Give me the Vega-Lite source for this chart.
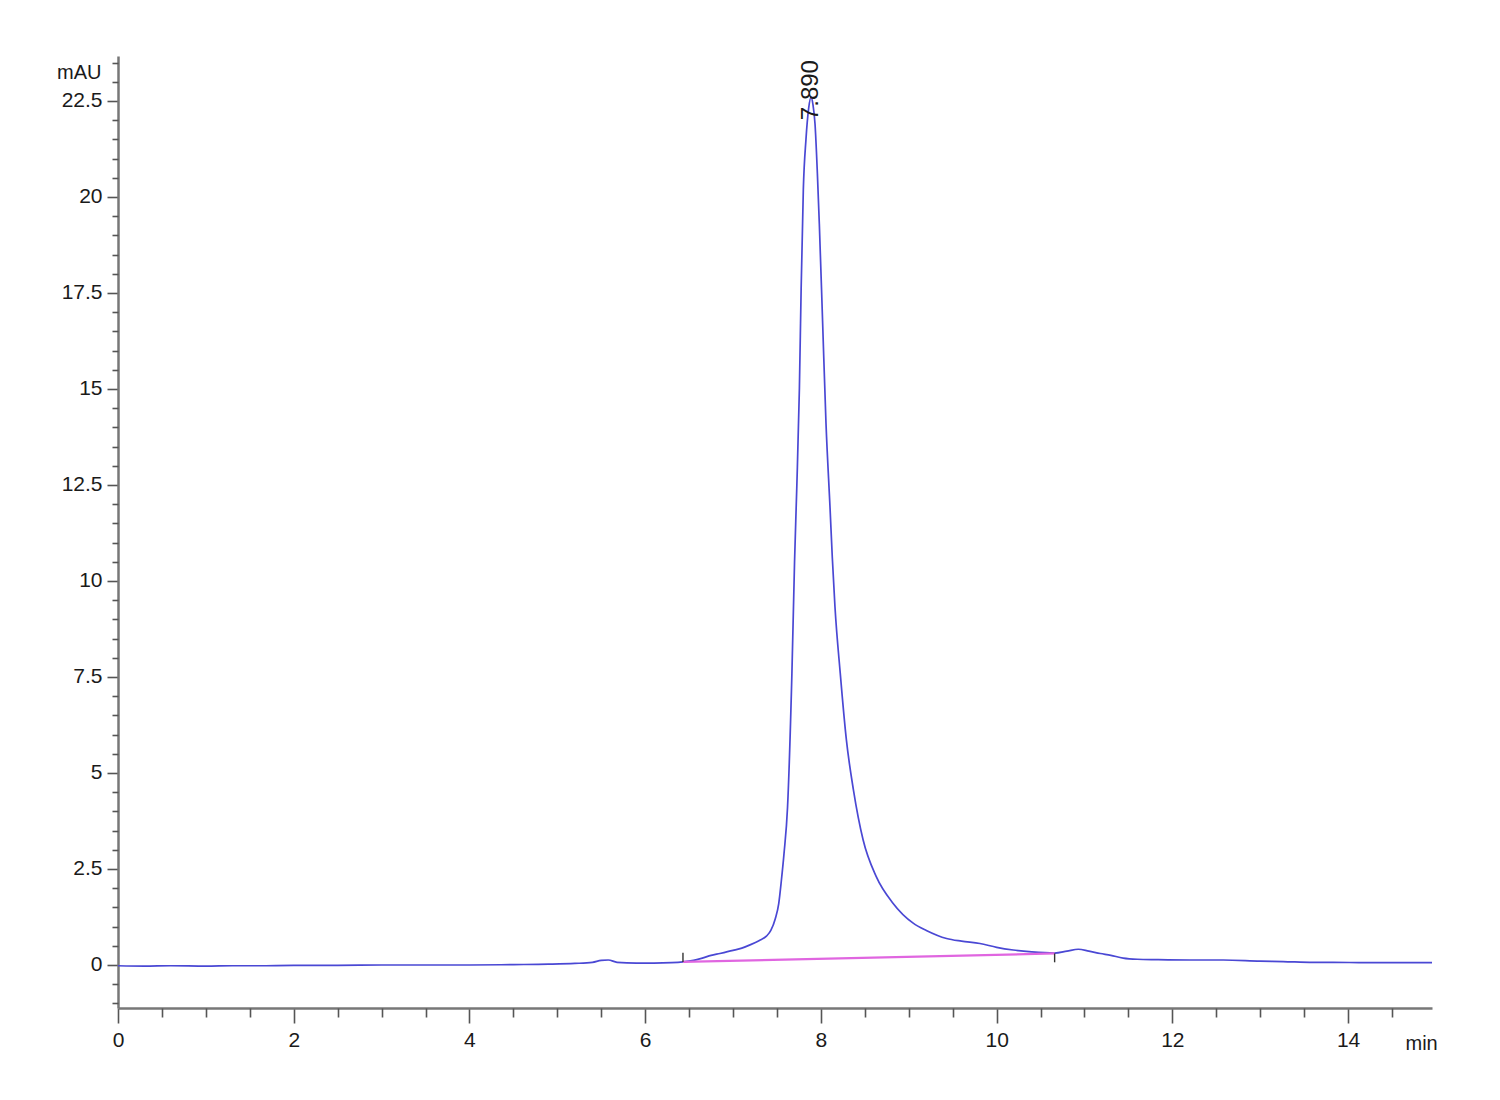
{
  "$schema": "https://vega.github.io/schema/vega-lite/v6.json",
  "autosize": {"type": "none"},
  "width": 1314,
  "height": 952,
  "padding": {"left": 118, "top": 56, "right": 68, "bottom": 92},
  "background": "white",
  "config": {
    "view": {"stroke": null},
    "font": "Liberation Sans",
    "axis": {
      "grid": false,
      "labelFont": "Liberation Sans",
      "labelFontSize": 21,
      "labelColor": "#1a1a1a",
      "titleFont": "Liberation Sans",
      "titleFontSize": 20,
      "titleFontWeight": "normal",
      "titleColor": "#1a1a1a",
      "tickColor": "#555555",
      "tickWidth": 1.6,
      "domainColor": "#777777",
      "domainWidth": 2.5
    }
  },
  "datasets": {
    "trace": [
      {"t": 0.0, "mAU": -0.02}, {"t": 0.3, "mAU": -0.03}, {"t": 0.6, "mAU": -0.02},
      {"t": 1.0, "mAU": -0.03}, {"t": 1.3, "mAU": -0.02}, {"t": 1.6, "mAU": -0.02},
      {"t": 2.0, "mAU": -0.01}, {"t": 2.5, "mAU": -0.01}, {"t": 3.0, "mAU": 0.0},
      {"t": 3.5, "mAU": 0.0}, {"t": 4.0, "mAU": 0.0}, {"t": 4.5, "mAU": 0.01},
      {"t": 4.9, "mAU": 0.02}, {"t": 5.2, "mAU": 0.04}, {"t": 5.4, "mAU": 0.07},
      {"t": 5.5, "mAU": 0.12}, {"t": 5.58, "mAU": 0.13}, {"t": 5.68, "mAU": 0.07},
      {"t": 5.9, "mAU": 0.05}, {"t": 6.1, "mAU": 0.05}, {"t": 6.3, "mAU": 0.06},
      {"t": 6.43, "mAU": 0.08}, {"t": 6.55, "mAU": 0.12}, {"t": 6.65, "mAU": 0.18},
      {"t": 6.75, "mAU": 0.25}, {"t": 6.85, "mAU": 0.3}, {"t": 7.0, "mAU": 0.38},
      {"t": 7.1, "mAU": 0.44}, {"t": 7.2, "mAU": 0.53}, {"t": 7.3, "mAU": 0.64},
      {"t": 7.38, "mAU": 0.75}, {"t": 7.43, "mAU": 0.9}, {"t": 7.48, "mAU": 1.2},
      {"t": 7.52, "mAU": 1.6}, {"t": 7.55, "mAU": 2.2}, {"t": 7.58, "mAU": 2.9},
      {"t": 7.62, "mAU": 4.1}, {"t": 7.67, "mAU": 7.6}, {"t": 7.7, "mAU": 10.5},
      {"t": 7.725, "mAU": 12.4}, {"t": 7.755, "mAU": 15.0}, {"t": 7.775, "mAU": 17.6},
      {"t": 7.8, "mAU": 20.2}, {"t": 7.83, "mAU": 21.5}, {"t": 7.86, "mAU": 22.3},
      {"t": 7.888, "mAU": 22.6}, {"t": 7.91, "mAU": 22.4}, {"t": 7.933, "mAU": 21.9},
      {"t": 7.96, "mAU": 20.6}, {"t": 7.982, "mAU": 19.3}, {"t": 8.02, "mAU": 16.7},
      {"t": 8.058, "mAU": 14.1}, {"t": 8.104, "mAU": 11.9}, {"t": 8.13, "mAU": 10.6},
      {"t": 8.16, "mAU": 9.33}, {"t": 8.22, "mAU": 7.6}, {"t": 8.29, "mAU": 5.86},
      {"t": 8.37, "mAU": 4.56}, {"t": 8.48, "mAU": 3.26}, {"t": 8.63, "mAU": 2.3},
      {"t": 8.82, "mAU": 1.61}, {"t": 9.05, "mAU": 1.09}, {"t": 9.2, "mAU": 0.9},
      {"t": 9.43, "mAU": 0.69}, {"t": 9.6, "mAU": 0.62}, {"t": 9.81, "mAU": 0.56},
      {"t": 10.0, "mAU": 0.46}, {"t": 10.19, "mAU": 0.39}, {"t": 10.4, "mAU": 0.34},
      {"t": 10.66, "mAU": 0.31}, {"t": 10.8, "mAU": 0.36}, {"t": 10.93, "mAU": 0.41},
      {"t": 11.05, "mAU": 0.36}, {"t": 11.18, "mAU": 0.3}, {"t": 11.3, "mAU": 0.25},
      {"t": 11.44, "mAU": 0.18}, {"t": 11.6, "mAU": 0.15}, {"t": 11.82, "mAU": 0.14},
      {"t": 12.2, "mAU": 0.13}, {"t": 12.58, "mAU": 0.13}, {"t": 13.0, "mAU": 0.1},
      {"t": 13.26, "mAU": 0.09}, {"t": 13.6, "mAU": 0.07}, {"t": 13.83, "mAU": 0.07},
      {"t": 14.2, "mAU": 0.06}, {"t": 14.5, "mAU": 0.06}, {"t": 14.955, "mAU": 0.06}
    ],
    "baseline": [
      {"t0": 6.43, "y0": 0.08, "t1": 10.66, "y1": 0.3}
    ],
    "marks": [
      {"t": 6.43, "y0": 0.08, "y1": 0.32},
      {"t": 10.66, "y0": 0.3, "y1": 0.07}
    ],
    "peak": [
      {"t": 7.89, "mAU": 22.0, "label": "7.890"}
    ]
  },
  "resolve": {"axis": {"x": "independent", "y": "independent"}},
  "layer": [
    {
      "data": {"name": "trace"},
      "mark": {"type": "line", "color": "#4a48d4", "strokeWidth": 1.7, "interpolate": "monotone", "clip": true},
      "encoding": {
        "x": {
          "field": "t", "type": "quantitative",
          "scale": {"domain": [0, 14.955], "nice": false, "zero": false},
          "axis": {
            "orient": "bottom",
            "values": [0, 2, 4, 6, 8, 10, 12, 14],
            "labelFlush": false,
            "tickSize": 15,
            "labelPadding": 6,
            "title": "min",
            "titleAlign": "left",
            "titleBaseline": "alphabetic",
            "titleX": 1287,
            "titleY": 41
          }
        },
        "y": {
          "field": "mAU", "type": "quantitative",
          "scale": {"domain": [-1.12, 23.67], "nice": false, "zero": false},
          "axis": {
            "orient": "left",
            "values": [0, 2.5, 5, 7.5, 10, 12.5, 15, 17.5, 20, 22.5],
            "labelExpr": "datum.value % 1 === 0 ? format(datum.value, 'd') : format(datum.value, '.1f')",
            "labelFlush": false,
            "tickSize": 11,
            "labelPadding": 5,
            "title": "mAU",
            "titleAngle": 0,
            "titleAlign": "right",
            "titleBaseline": "alphabetic",
            "titleX": -17,
            "titleY": 22
          }
        }
      }
    },
    {
      "data": {"name": "baseline"},
      "mark": {"type": "rule", "color": "#e066e0", "strokeWidth": 2.2},
      "encoding": {
        "x": {
          "field": "t0", "type": "quantitative",
          "axis": {
            "orient": "bottom",
            "values": [0.5, 1, 1.5, 2.5, 3, 3.5, 4.5, 5, 5.5, 6.5, 7, 7.5, 8.5, 9, 9.5, 10.5, 11, 11.5, 12.5, 13, 13.5, 14.5],
            "tickSize": 9,
            "labels": false,
            "domain": false,
            "title": null
          }
        },
        "x2": {"field": "t1"},
        "y": {
          "field": "y0", "type": "quantitative",
          "axis": {
            "orient": "left",
            "values": [-1, -0.5, 0.5, 1, 1.5, 2, 3, 3.5, 4, 4.5, 5.5, 6, 6.5, 7, 8, 8.5, 9, 9.5, 10.5, 11, 11.5, 12, 13, 13.5, 14, 14.5, 15.5, 16, 16.5, 17, 18, 18.5, 19, 19.5, 20.5, 21, 21.5, 22, 23, 23.5],
            "tickSize": 6,
            "labels": false,
            "domain": false,
            "title": null
          }
        },
        "y2": {"field": "y1"}
      }
    },
    {
      "data": {"name": "marks"},
      "mark": {"type": "rule", "color": "#333333", "strokeWidth": 1.4},
      "encoding": {
        "x": {"field": "t", "type": "quantitative", "axis": null},
        "y": {"field": "y0", "type": "quantitative", "axis": null},
        "y2": {"field": "y1"}
      }
    },
    {
      "data": {"name": "peak"},
      "mark": {
        "type": "text",
        "angle": 270,
        "align": "left",
        "baseline": "middle",
        "fontSize": 24,
        "color": "#1a1a1a",
        "font": "Liberation Sans"
      },
      "encoding": {
        "x": {"field": "t", "type": "quantitative", "axis": null},
        "y": {"field": "mAU", "type": "quantitative", "axis": null},
        "text": {"field": "label"}
      }
    }
  ]
}
